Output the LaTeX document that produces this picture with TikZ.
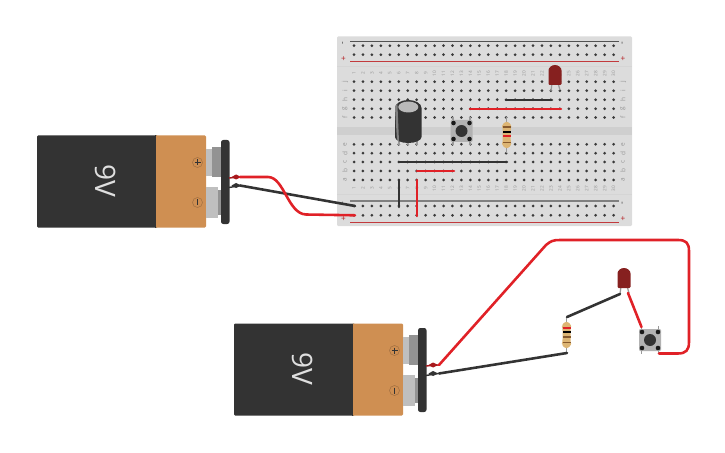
\documentclass[tikz,border=0pt]{standalone}
\usepackage{fontspec}
\setmainfont{Open Sans}
\definecolor{boardgray}{HTML}{DCDCDC}
\definecolor{groovegray}{HTML}{CFCFCF}
\definecolor{holegray}{HTML}{3A3A3A}
\definecolor{labelgray}{HTML}{969696}
\definecolor{wirered}{HTML}{E02127}
\definecolor{wireblack}{HTML}{333333}
\definecolor{railred}{HTML}{C23A3D}
\definecolor{battorange}{HTML}{CF8F52}
\definecolor{ledred}{HTML}{86201F}
\definecolor{resbody}{HTML}{DDB573}
\tikzset{
    redwire/.style={draw=wirered, line width=2.2pt, line cap=round, line join=round},
    blackwire/.style={draw=wireblack, line width=2.2pt, line cap=round, line join=round},
    boardlabel/.style={text=labelgray, font=\fontsize{4}{4}\selectfont, inner sep=0pt, rotate=90},
    pinleg/.style={draw=gray!80, line width=1.1pt},
}

% 9V battery, #1 is the offset, #2 the name
\newcommand{\batterypack}[2]{
\begin{scope}[shift={(#1)}]
    \fill[wireblack, rounded corners=1pt] (37,135.5) rectangle (158,227.5);
    \fill[battorange, rounded corners=1pt] (155,135.5) rectangle (206,227.5);
    \fill[wireblack] (155,135.5) rectangle (156,227.5);
    \node[rotate=-90, text=gray!25, font=\fontsize{24}{24}\selectfont, inner sep=0pt] (#2-label) at (106,181) {9V};
    % terminals
    \fill[gray!50] (206,149) rectangle (212,176);
    \fill[gray!85] (212,147) rectangle (222,177);
    \fill[gray!50] (206,187) rectangle (218,218);
    \fill[gray!85] (218,190) rectangle (222,215);
    \fill[wireblack, rounded corners=2pt] (221,140) rectangle (229.5,224);
    % signs
    \draw[battorange!80!black, line width=.5pt] (197.5,162.5) circle (5);
    \draw[wireblack, line width=.6pt] (194.5,162.5) -- (200.5,162.5) (197.5,159.5) -- (197.5,165.5);
    \draw[battorange!80!black, line width=.5pt] (197.5,202.5) circle (5);
    \draw[wireblack, line width=.6pt] (197.5,199.5) -- (197.5,205.5);
    % clips
    \draw[line width=1.2pt, wirered!75!black] (229,178) -- (241,177);
    \fill[wirered!75!black] (231.5,177) -- (236,174.5) -- (241,177) -- (236,179.5) -- cycle;
    \draw[line width=1.2pt, wireblack] (229,187.5) -- (241,185.5);
    \fill[wireblack] (231.5,185.5) -- (236,183) -- (241,185.5) -- (236,188) -- cycle;
\end{scope}
}

% resistor lying upright, #1 centre, #2 #3 first and last band
\newcommand{\restor}[3]{
\begin{scope}[shift={(#1)}]
    \draw[pinleg] (0,-18) -- (0,18);
    \fill[resbody, rounded corners=2pt] (-5,-10) -- (0,-14) -- (5,-10) -- (4,-7) -- (4,7) -- (5,10) -- (0,14) -- (-5,10) -- (-4,7) -- (-4,-7) -- cycle;
    \fill[#2] (-4,-8.5) rectangle (4,-6.5);
    \fill[black] (-4,-4) rectangle (4,-2);
    \fill[#3] (-4,.5) rectangle (4,2.5);
    \fill[brown!70!black] (-4,7) rectangle (4,8);
\end{scope}
}

% red led, #1 centre
\newcommand{\ledlamp}[1]{
\begin{scope}[shift={(#1)}]
    \draw[pinleg] (-3,8) -- (-4,16);
    \draw[pinleg] (3,8) -- (5,15);
    \fill[ledred, rounded corners=1pt] (-6.5,10) -- (-6.5,-3.5) arc (180:360:6.5) -- (6.5,10) -- cycle;
\end{scope}
}

% push button, #1 centre
\newcommand{\pushbtn}[1]{
\begin{scope}[shift={(#1)}]
    \draw[pinleg] (-8.5,-14) -- (-8.5,14) (8.5,-14) -- (8.5,14);
    \fill[gray!60, rounded corners=1pt] (-11,-11) rectangle (11,11);
    \fill[wireblack] (0,0) circle (6);
    \foreach \sx in {-8,8}
        \foreach \sy in {-8,8}
            \fill[gray!20!black] (\sx,\sy) circle (2.3);
\end{scope}
}

\begin{document}
\begin{tikzpicture}[x=0.03cm, y=-0.03cm]
    \useasboundingbox (0,0) rectangle (725,453);

    % Breadboard
    \fill[boardgray, rounded corners=1pt] (337,36.5) rectangle (632,226);
    \fill[groovegray] (337,127) rectangle (632,135);
    \fill[groovegray!50!boardgray] (337,66.5) rectangle (632,67.5);
    \fill[groovegray!50!boardgray] (337,194.5) rectangle (632,195.5);

    % Holes
    \foreach \col in {0,...,29} {
        \foreach \row in {45.7,54.7,81.7,90.7,99.7,108.7,117.5,144.3,153.2,162,171,180,206,215.3}
            \fill[holegray] (354+\col*8.95,\row) circle (1.5);
    }

    % Rails
    \draw[wireblack!85, line width=.8pt] (350,41) -- (619,41);
    \draw[railred, line width=.9pt] (350,61.5) -- (619,61.5);
    \draw[gray, line width=1.2pt] (350,201) -- (619,201);
    \draw[railred, line width=.9pt] (350,222.5) -- (619,222.5);
    \foreach \sx/\nm in {343.5/l,623/r} {
        \node[rotate=90, text=wireblack, font=\fontsize{7}{7}\selectfont, inner sep=0pt] (minustop\nm) at (\sx,43.5) {-};
        \node[text=wirered!80!black, font=\fontsize{7}{7}\selectfont, inner sep=0pt] (plustop\nm) at (\sx,59) {+};
        \node[rotate=90, text=wireblack, font=\fontsize{7}{7}\selectfont, inner sep=0pt] (minusbot\nm) at (\sx,203) {-};
        \node[text=wirered!80!black, font=\fontsize{7}{7}\selectfont, inner sep=0pt] (plusbot\nm) at (\sx,219.5) {+};
    }

    % Column numbers and row letters
    \foreach \col [evaluate=\col as \colx using {354+(\col-1)*8.95}] in {1,...,30} {
        \node[boardlabel] (numtop\col) at (\colx,73.5) {\col};
        \node[boardlabel] (numbot\col) at (\colx,188.5) {\col};
    }
    \foreach \letter/\row in {j/81.7,i/90.7,h/99.7,g/108.7,f/117.5,e/144.3,d/153.2,c/162,b/171,a/180} {
        \node[boardlabel, font=\fontsize{5.5}{5.5}\selectfont] (rowl\letter) at (345,\row) {\letter};
        \node[boardlabel, font=\fontsize{5.5}{5.5}\selectfont] (rowr\letter) at (623,\row) {\letter};
    }

    % Wires on the board
    \draw[blackwire] (506,100) -- (552,100);
    \draw[redwire] (470,109) -- (561,109);
    \draw[blackwire] (399,162) -- (507,162);
    \draw[redwire] (417,171) -- (454,171);
    \draw[blackwire] (399,180) -- (399,207);
    \draw[redwire] (417,180) -- (417,216);

    % Capacitor
    \draw[pinleg] (399,138) -- (399,145) (408,138) -- (408,145) (417,138) -- (417,145);
    \fill[wireblack] (395,108) arc (180:360:13.25 and 8) -- (421.5,137) arc (0:180:13.25 and 6) -- cycle;
    \fill[gray] (395,108) arc (180:215:13.25 and 8) -- (399,141.5) arc (147:180:13.25 and 6) -- cycle;
    \fill[gray!55] (408.3,107) ellipse (10 and 5.5);

    % Parts on the board
    \pushbtn{461.5,131}
    \restor{506.7,135}{brown!70!black}{wirered}
    \ledlamp{555,75}

    % First battery and its wires
    \batterypack{0,0}{batone}
    \coordinate (redone) at (240,177);
    \coordinate (blackone) at (240,185.5);
    \coordinate (railplus) at (355,215.3);
    \coordinate (railminus) at (355,206);
    \draw[blackwire] (blackone) -- (railminus);
    \draw[redwire] (redone) -- (268,177) .. controls (284,177) and (288,214) .. (306,214.5) -- (railplus);

    % Second circuit
    \batterypack{197,188}{battwo}
    \restor{566.5,335}{wirered}{brown!70!black}
    \ledlamp{624,278}
    \pushbtn{650,340}
    \coordinate (redtwo) at (439,365);
    \coordinate (blacktwo) at (439,373.5);
    \coordinate (restop) at (567,317);
    \coordinate (resbot) at (567,353);
    \coordinate (ledcath) at (620,294);
    \coordinate (ledanode) at (628,293);
    \coordinate (btntop) at (641.5,327);
    \coordinate (btnbot) at (659,353.5);
    \draw[blackwire] (blacktwo) -- (resbot);
    \draw[blackwire] (restop) -- (ledcath);
    \draw[redwire] (ledanode) -- (btntop);
    \draw[redwire] (redtwo) -- (546,245) .. controls (551,241) and (553,240) .. (560,240) -- (678,240) .. controls (686,240) and (689,243) .. (689,251) -- (689,342) .. controls (689,350) and (686,353.5) .. (678,353.5) -- (btnbot);
\end{tikzpicture}
\end{document}
